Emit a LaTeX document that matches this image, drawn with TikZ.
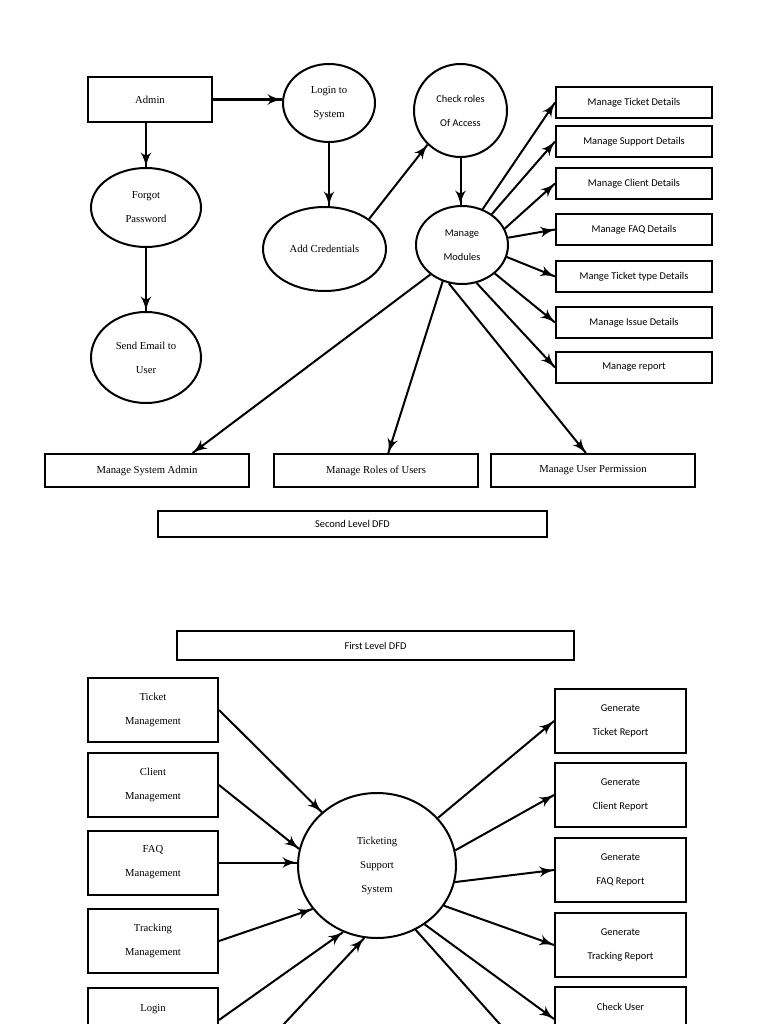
\documentclass[tikz,border=0pt]{standalone}
\usepackage{fontspec}
\setmainfont{Liberation Serif}
\newfontfamily\calibfont{Carlito}
\usetikzlibrary{arrows}
\usetikzlibrary{decorations.markings}
\usetikzlibrary{shapes.geometric}
\tikzset{->/.style = {decoration={markings,
                                  mark=at position 1 with {\arrow[scale=1.5]{latex'}}},
                      postaction={decorate}}}
\tikzset{box/.style = {draw, inner sep=0pt, align=center,
                       font={\fontsize{8}{18}\selectfont}}}
\tikzset{bubble/.style = {box, ellipse}}
\tikzset{sans/.style = {font={\calibfont\fontsize{7.8}{18}\selectfont}}}
\tikzset{detail/.style = {box, sans, minimum width=117pt, minimum height=23.25pt}}
\tikzset{wide/.style = {box, minimum width=153pt, minimum height=24.75pt}}
\tikzset{source/.style = {box, minimum width=97.5pt, minimum height=48pt}}
\tikzset{genbox/.style = {box, sans, minimum width=98.25pt, minimum height=48pt}}

\begin{document}
\begin{tikzpicture}[x=7.5pt, y=-7.5pt, line width=1.5pt]
      \useasboundingbox (0, 0) rectangle (76.8, 102.4);
      \clip (0, 0) rectangle (76.8, 102.4);
      % second level
      \node [box, minimum width=93pt, minimum height=33.75pt] (admin) at (15, 9.95) {Admin};
      \node [bubble, minimum width=69pt, minimum height=58.5pt] (login) at (32.9, 10.3) {Login to\\System};
      \node [bubble, sans, minimum width=69.75pt, minimum height=69.75pt] (check) at (46.05, 11.05) {Check roles\\Of Access};
      \node [bubble, minimum width=82.5pt, minimum height=59.25pt] (forgot) at (14.6, 20.75) {Forgot\\Password};
      \node [bubble, minimum width=92.25pt, minimum height=63pt] (cred) at (32.45, 24.9) {Add Credentials};
      \node [bubble, sans, minimum width=69pt, minimum height=58.5pt] (modules) at (46.2, 24.5) {Manage\\Modules};
      \node [bubble, minimum width=82.5pt, minimum height=68.25pt] (email) at (14.6, 35.75) {Send Email to\\User};
      \node [detail] (tickets) at (63.4, 10.25) {Manage Ticket Details};
      \node [detail] (support) at (63.4, 14.15) {Manage Support Details};
      \node [detail] (client) at (63.4, 18.35) {Manage Client Details};
      \node [detail] (faq) at (63.4, 22.95) {Manage FAQ Details};
      \node [detail] (type) at (63.4, 27.65) {Mange Ticket type Details};
      \node [detail] (issue) at (63.4, 32.25) {Manage Issue Details};
      \node [detail] (report) at (63.4, 36.75) {Manage report};
      \node [wide] (sysadmin) at (14.7, 47.05) {Manage System Admin};
      \node [wide] (roles) at (37.6, 47.05) {Manage Roles of Users};
      \node [wide] (perm) at (59.3, 47.05) {Manage User Permission};
      \node [box, sans, minimum width=291.75pt, minimum height=19.5pt] (second) at (35.25, 52.4) {Second Level DFD};
      \draw [->] (admin.east) -- (admin -| login.west);
      \draw [->] (forgot.north |- admin.south) -- (forgot.north);
      \draw [->] (forgot.south) -- (email.north);
      \draw [->] (login.south) -- (login.south |- cred.north);
      \draw [->] (cred.34) -- (check.226);
      \draw [->] (check.south) -- (check.south |- modules.north);
      \draw [->] (modules.60) -- (tickets.west);
      \draw [->] (modules.46) -- (support.west);
      \draw [->] (modules.21) -- (client.west);
      \draw [->] (modules.9) -- (faq.west);
      \draw [->] (modules.345) -- (type.west);
      \draw [->] (modules.319) -- (issue.west);
      \draw [->] (modules.291) -- (report.west);
      \draw [->] (modules.223) -- (sysadmin.21);
      \draw [->] (modules.242) -- (roles.55);
      \draw [->] (modules.251) -- (perm.112);
      % first level
      \node [box, sans, minimum width=297.75pt, minimum height=21.75pt] (first) at (37.55, 64.55) {First Level DFD};
      \node [source] (tm) at (15.3, 71.0) {Ticket\\Management};
      \node [source] (cm) at (15.3, 78.5) {Client\\Management};
      \node [source] (fm) at (15.3, 86.25) {FAQ\\Management};
      \node [source] (trm) at (15.3, 94.1) {Tracking\\Management};
      \node [source] (lg) at (15.3, 102.0) {Login\\\mbox{}};
      \node [bubble, minimum width=118.5pt, minimum height=108.75pt] (tss) at (37.7, 86.55) {Ticketing\\Support\\System};
      \node [genbox] (gtr) at (62.05, 72.1) {Generate\\Ticket Report};
      \node [genbox] (gcr) at (62.05, 79.5) {Generate\\Client Report};
      \node [genbox] (gfr) at (62.05, 87.0) {Generate\\FAQ Report};
      \node [genbox] (gtrk) at (62.05, 94.5) {Generate\\Tracking Report};
      \node [genbox] (cu) at (62.05, 101.9) {Check User\\\mbox{}};
      \coordinate (below1) at (26.9, 104);
      \coordinate (below2) at (51.4, 104);
      \draw [->] (tm.east) -- (tss.136);
      \draw [->] (cm.east) -- (tss.168);
      \draw [->] (fm.east) -- (fm.east -| tss.west);
      \draw [->] (trm.east) -- (tss.214);
      \draw [->] (lg.east) -- (tss.243);
      \draw [->] (below1) -- (tss.260);
      \draw [->] (tss.38) -- (gtr.west);
      \draw [->] (tss.11) -- (gcr.west);
      \draw [->] (tss.348) -- (gfr.west);
      \draw [->] (tss.329) -- (gtrk.west);
      \draw [->] (tss.309) -- (cu.west);
      \draw (tss.301) -- (below2);
    \end{tikzpicture}
\end{document}
